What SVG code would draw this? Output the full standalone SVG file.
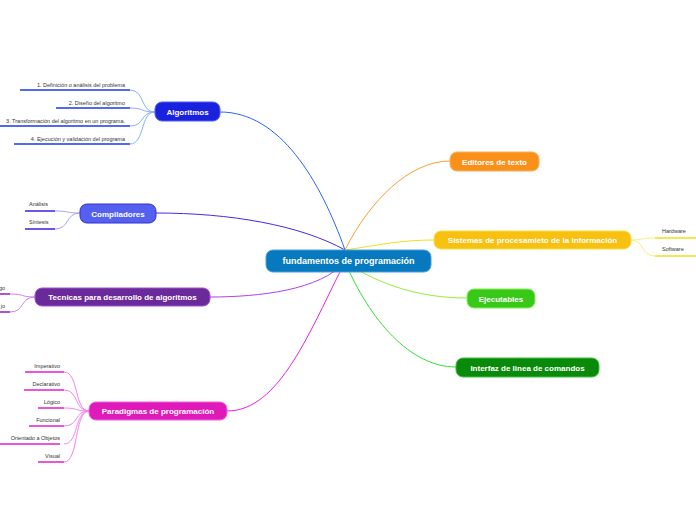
<svg xmlns="http://www.w3.org/2000/svg" width="696" height="520" viewBox="0 0 696 520">
<style>
.n{font-family:"Liberation Sans",Arial,sans-serif;font-weight:bold;font-size:8px;fill:#fff;text-anchor:middle}
.l{font-family:"Liberation Sans",Arial,sans-serif;font-size:5.5px;fill:#333}
.r{text-anchor:end}
path{fill:none}
</style>
<rect width="696" height="520" fill="#fff"/>
<g id="connectors" stroke-width="1">
<path d="M345,250 C320,180 280,112 220,112" stroke="#2a66f0"/>
<path d="M345,250 C300,225 230,213 156,213" stroke="#4a26e8"/>
<path d="M345,262 C320,290 260,297 210,297" stroke="#b040f0"/>
<path d="M345,262 C310,330 280,411 227,411" stroke="#e820e0"/>
<path d="M345,250 C370,200 410,161 450,161" stroke="#f8a030"/>
<path d="M345,250 C380,245 400,240 434,240" stroke="#f0e020"/>
<path d="M345,262 C380,285 420,298 467,298" stroke="#90f030"/>
<path d="M345,262 C370,320 410,367 456,367" stroke="#30e030"/>
<g stroke="#8ab0f8">
<path d="M155,112 C140,112 145,90 130,90"/><path d="M155,112 C140,112 145,108 130,108"/><path d="M155,112 C140,112 145,126 130,126"/><path d="M155,112 C140,112 145,144 130,144"/>
</g>
<g stroke="#1a3af0" stroke-width="1.5">
<path d="M20,90H130M56,108H130M0,126H130M14,144H130"/>
</g>
<g stroke="#a8a0f8"><path d="M80,213 C65,213 70,211 55,211"/><path d="M80,213 C65,213 70,229 55,229"/></g>
<g stroke="#3a20e0" stroke-width="1.5"><path d="M25,211H55M25,229H55"/></g>
<g stroke="#d080f0"><path d="M35,297 C20,297 25,294 10,294"/><path d="M35,297 C20,297 25,312 10,312"/></g>
<g stroke="#9020c0" stroke-width="1.5"><path d="M0,294H10M0,312H10"/></g>
<g stroke="#f880f0">
<path d="M89,411 C74,411 79,372 64,372"/><path d="M89,411 C74,411 79,390 64,390"/><path d="M89,411 C74,411 79,408 64,408"/><path d="M89,411 C74,411 79,426 64,426"/><path d="M89,411 C74,411 79,444 64,444"/><path d="M89,411 C74,411 79,462 64,462"/>
</g>
<g stroke="#e020d0" stroke-width="1.5"><path d="M25,372H64M24,390H64M38,408H64M29,426H64M0,444H60M38,462H64"/></g>
<g stroke="#f8f080"><path d="M631,240 C645,240 640,238 655,238"/><path d="M631,240 C645,240 640,256 655,256"/></g>
<g stroke="#f0e020" stroke-width="1.5"><path d="M655,238H696M655,256H696"/></g>
</g>
<g id="center"><rect x="266" y="250" width="165" height="22" rx="7" fill="#0779bf" stroke="#4aa0e0"/><text class="n" x="348.5" y="264" style="font-size:9px">fundamentos de programación</text></g>
<g id="algoritmos"><rect x="155" y="102" width="65" height="19" rx="7" fill="#1a22e0" stroke="#5060f0"/><text class="n" x="187.5" y="114.5">Algoritmos</text></g>
<g id="compiladores"><rect x="80" y="204" width="76" height="19" rx="7" fill="#5560f0" stroke="#3030d0"/><text class="n" x="118" y="216.5">Compiladores</text></g>
<g id="tecnicas"><rect x="35" y="288" width="175" height="18" rx="7" fill="#6a2a9a" stroke="#a050d0"/><text class="n" x="122.5" y="300">Tecnicas para desarrollo de algoritmos</text></g>
<g id="paradigmas"><rect x="89" y="402" width="138" height="18" rx="7" fill="#e01ab8" stroke="#f060e0"/><text class="n" x="158" y="414">Paradigmas de programación</text></g>
<g id="editores"><rect x="450" y="152" width="89" height="19" rx="7" fill="#f8901a" stroke="#f8b060"/><text class="n" x="494.5" y="164.5">Editores de texto</text></g>
<g id="sistemas"><rect x="434" y="231" width="197" height="18" rx="7" fill="#f8c010" stroke="#f8e040"/><text class="n" x="532.5" y="243">Sistemas de procesamieto de la información</text></g>
<g id="ejecutables"><rect x="467" y="289" width="68" height="19" rx="7" fill="#38c818" stroke="#80f050"/><text class="n" x="501" y="301.5">Ejecutables</text></g>
<g id="interfaz"><rect x="456" y="358" width="143" height="19" rx="7" fill="#0a8a0a" stroke="#40c040"/><text class="n" x="527.5" y="370.5">Interfaz de linea de comandos</text></g>
<g id="leaves">
<text class="l r" x="125" y="87">1. Definición o análisis del problema</text>
<text class="l r" x="125" y="105">2. Diseño del algoritmo</text>
<text class="l r" x="125" y="123">3. Transformación del algoritmo en un programa.</text>
<text class="l r" x="125" y="141">4. Ejecución y validación del programa</text>
<text class="l" x="29" y="206">Análisis</text>
<text class="l" x="29" y="224">Síntesis</text>
<text class="l r" x="5" y="290">go</text>
<text class="l r" x="5" y="308">jo</text>
<text class="l r" x="60" y="368">Imperativo</text>
<text class="l r" x="60" y="386">Declarativo</text>
<text class="l r" x="60" y="404">Lógico</text>
<text class="l r" x="60" y="422">Funcional</text>
<text class="l r" x="60" y="440">Orientado a Objetos</text>
<text class="l r" x="60" y="458">Visual</text>
<text class="l" x="662" y="233">Hardware</text>
<text class="l" x="662" y="251">Software</text>
</g>
</svg>
